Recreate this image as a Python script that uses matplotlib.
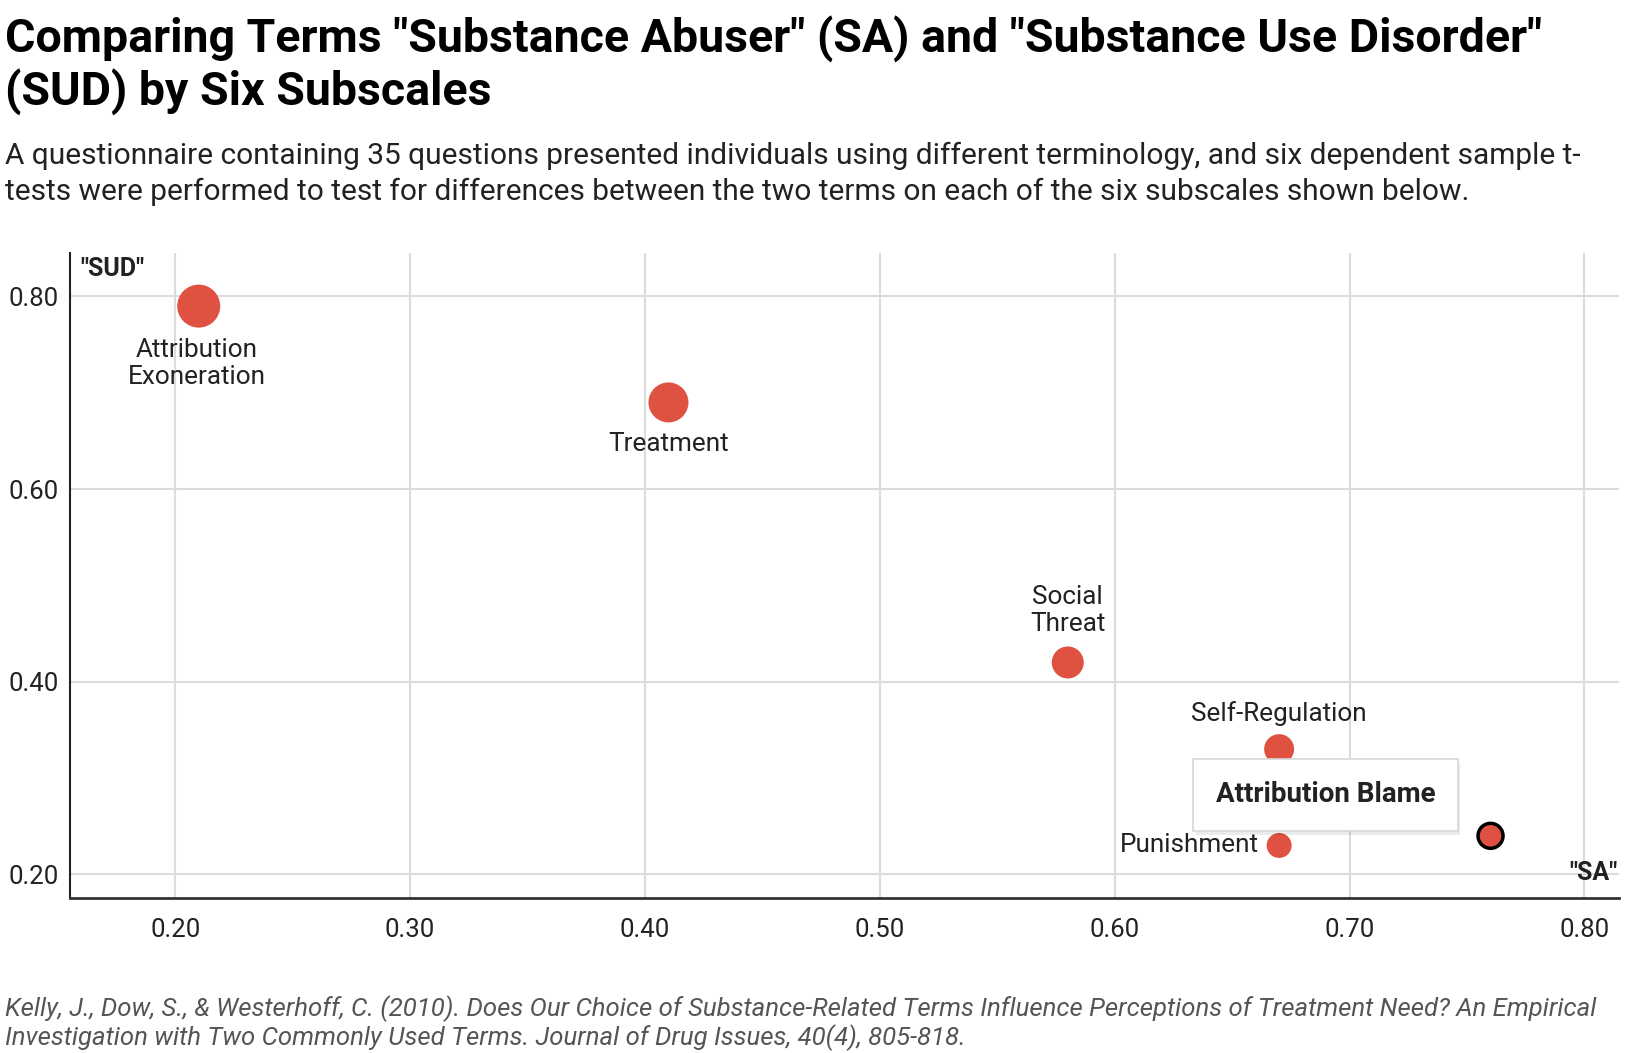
import matplotlib
matplotlib.use('Agg')
import matplotlib.pyplot as plt
import matplotlib.patheffects as pe

plt.rcParams['font.family'] = ['Roboto', 'DejaVu Sans']

# data: (SA score, SUD score) for each subscale
subscales = ['Attribution\nExoneration', 'Treatment', 'Social\nThreat',
             'Self-Regulation', 'Punishment', 'Attribution Blame']
sa_vals = [0.21, 0.41, 0.58, 0.67, 0.67, 0.76]
sud_vals = [0.79, 0.69, 0.42, 0.33, 0.23, 0.24]
x_ticks = [0.20, 0.30, 0.40, 0.50, 0.60, 0.70, 0.80]
y_ticks = [0.20, 0.40, 0.60, 0.80]

# marker radius in pixels
radius = [21.5, 20, 16, 15, 12.5, 12.5]

W, H = 1566.0, 1015.0  # layout measured on the reference

fig = plt.figure(figsize=(16.25, 10.53), dpi=100)
ax = fig.add_axes([67 / W, 1 - 866 / H, (1560 - 67) / W, (866 - 244) / H])

red = '#df5242'
px2pt = 72.0 / 100.0
sizes = [(2 * r * px2pt) ** 2 for r in radius]
edges = ['none'] * 5 + ['black']
lws = [0] * 5 + [2.5]
ax.scatter(sa_vals, sud_vals, s=sizes, c=red, edgecolors=edges, linewidths=lws, zorder=3)

ax.set_xlim(0.155, 0.8146)
ax.set_ylim(0.175, 0.845)
ax.set_xticks(x_ticks)
ax.set_yticks(y_ticks)
ax.set_xticklabels(['%.2f' % v for v in x_ticks])
ax.set_yticklabels(['%.2f' % v for v in y_ticks])
ax.tick_params(length=0, labelsize=18.5, colors='#222222')
ax.tick_params(axis='x', pad=14)
ax.tick_params(axis='y', pad=8)
ax.grid(True, color='#dcdcdc', linewidth=1.5, zorder=0)
ax.set_axisbelow(True)
for s in ['top', 'right']:
    ax.spines[s].set_visible(False)
ax.spines['left'].set_color('#222222')
ax.spines['left'].set_linewidth(1.5)
ax.spines['bottom'].set_color('#333333')
ax.spines['bottom'].set_linewidth(2)

# point labels
lbl = dict(fontsize=18.8, color='#222222', textcoords='offset pixels')
ax.annotate(subscales[0], (sa_vals[0], sud_vals[0]), xytext=(-2, -57), ha='center', va='center', linespacing=1.15, **lbl)
ax.annotate(subscales[1], (sa_vals[1], sud_vals[1]), xytext=(0, -42), ha='center', va='center', **lbl)
ax.annotate(subscales[2], (sa_vals[2], sud_vals[2]), xytext=(0, 52), ha='center', va='center', linespacing=1.15, **lbl)
ax.annotate(subscales[3], (sa_vals[3], sud_vals[3]), xytext=(0, 36), ha='center', va='center', **lbl)
ax.annotate(subscales[4], (sa_vals[4], sud_vals[4]), xytext=(-20, 0), ha='right', va='center', **lbl)

# tooltip for hovered point
tip = ax.annotate(subscales[5], (sa_vals[5], sud_vals[5]), xytext=(-165, 41), textcoords='offset pixels',
                  ha='center', va='center', fontsize=20, fontweight='bold', color='#222222', zorder=5,
                  bbox=dict(boxstyle='square,pad=0.8', fc='white', ec='#d8d8d8', lw=1.2))
tip.get_bbox_patch().set_path_effects([
    pe.SimplePatchShadow(offset=(2, -3), shadow_rgbFace='#000000', alpha=0.08), pe.Normal()])

# axis name labels
ax.text(0.007, 0.975, '"SUD"', transform=ax.transAxes,
        fontsize=18, fontweight='bold', color='#222222', ha='left', va='center')
ax.text(0.9995, 0.04, '"SA"', transform=ax.transAxes,
        fontsize=18, fontweight='bold', color='#222222', ha='right', va='center')

# titles
fig.text(5 / W, 1 - 37 / H, 'Comparing Terms "Substance Abuser" (SA) and "Substance Use Disorder"',
         fontsize=33.5, fontweight='bold', color='#000000', ha='left', va='center')
fig.text(5 / W, 1 - 88 / H, '(SUD) by Six Subscales',
         fontsize=33.5, fontweight='bold', color='#000000', ha='left', va='center')
fig.text(5 / W, 1 - 150 / H, 'A questionnaire containing 35 questions presented individuals using different terminology, and six dependent sample t-',
         fontsize=21.5, color='#222222', ha='left', va='center')
fig.text(5 / W, 1 - 185 / H, 'tests were performed to test for differences between the two terms on each of the six subscales shown below.',
         fontsize=21.5, color='#222222', ha='left', va='center')

# source
fig.text(5 / W, 1 - 972 / H, 'Kelly, J., Dow, S., & Westerhoff, C. (2010). Does Our Choice of Substance-Related Terms Influence Perceptions of Treatment Need? An Empirical',
         fontsize=18.5, style='italic', color='#555555', ha='left', va='center')
fig.text(5 / W, 1 - 1000 / H, 'Investigation with Two Commonly Used Terms. Journal of Drug Issues, 40(4), 805-818.',
         fontsize=18.5, style='italic', color='#555555', ha='left', va='center')

fig.savefig('out.png', dpi=100, facecolor='white')
